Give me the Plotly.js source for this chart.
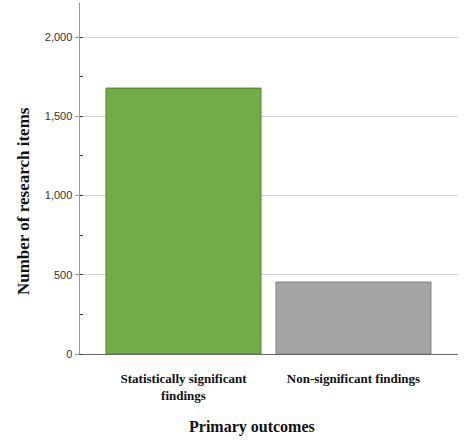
<!DOCTYPE html>
<html><head><meta charset="utf-8">
<script src="https://cdn.plot.ly/plotly-3.0.1.min.js"></script>
<style>html,body{margin:0;padding:0;background:#fff}#chart{width:474px;height:441px}</style>
</head><body><div id="chart"></div>
<script>
const categories = ["Statistically significant<br>findings", "Non-significant findings"];
const counts = [1678, 454];
const barColors = ["#70ad47", "#a5a5a5"];
const barEdges = ["#507e32", "#7f7f7f"];
const yTickVals = [0, 500, 1000, 1500, 2000];
const yTickText = ["0", "500", "1,000", "1,500", "2,000"];
const xTitle = "Primary outcomes";
const yTitle = "Number of research items";

const serif = "Liberation Serif, Times New Roman, serif";
const titleFont = {family: serif, size: 17, color: "#111", weight: "bold"};
Plotly.newPlot("chart", [{
  type: "bar",
  x: categories,
  y: counts,
  width: 0.912,
  marker: {color: barColors, line: {color: barEdges, width: 1}},
  hoverinfo: "none"
}], {
  width: 474, height: 441,
  margin: {l: 80, r: 16, t: 3, b: 87},
  paper_bgcolor: "#fff", plot_bgcolor: "#fff",
  showlegend: false,
  xaxis: {
    range: [-0.609, 1.615],
    showline: true, linecolor: "#666", linewidth: 1,
    ticks: "", showgrid: false, zeroline: false,
    ticklabelstandoff: 12,
    tickfont: {family: serif, size: 13, color: "#111", weight: "bold"}
  },
  yaxis: {
    range: [0, 2215],
    tickvals: yTickVals, ticktext: yTickText,
    showline: true, linecolor: "#999", linewidth: 1.5,
    ticks: "outside", ticklen: 4, tickcolor: "#999",
    showgrid: true, gridcolor: "#d4d4d4", gridwidth: 1,
    zeroline: false,
    tickfont: {family: "Liberation Sans, Arial, sans-serif", size: 11, color: "#333"},
    minor: {dtick: 250, tick0: 0, ticks: "inside", ticklen: 3, tickcolor: "#333", showgrid: false}
  },
  annotations: [
    {text: xTitle, xref: "paper", yref: "paper", x: 0.455, y: -0.208,
     xanchor: "center", yanchor: "middle", showarrow: false, font: {...titleFont, size: 16}},
    {text: yTitle, xref: "paper", yref: "paper", x: -0.148, y: 0.436, textangle: -90,
     xanchor: "center", yanchor: "middle", showarrow: false, font: titleFont}
  ]
}, {displayModeBar: false, staticPlot: true});
</script></body></html>
